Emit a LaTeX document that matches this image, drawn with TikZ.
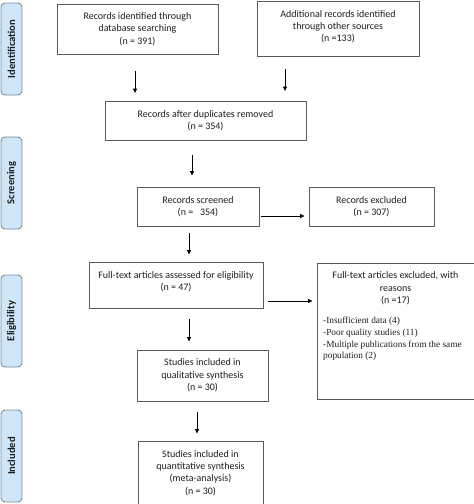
\documentclass[tikz,border=0pt]{standalone}
\usepackage{fontspec}
\setmainfont{Carlito}
\newfontfamily\seriffont{Liberation Serif}
\usetikzlibrary{arrows.meta}
\definecolor{phasefill}{HTML}{CFE6F8}
\definecolor{phaseline}{HTML}{7D8A96}
\definecolor{boxline}{HTML}{5A5A5A}
\definecolor{txt}{HTML}{1E1E1E}
\tikzset{
  box/.style={draw=boxline, line width=0.9pt, rectangle, inner sep=0pt, align=center,
    text=txt, font=\fontsize{10}{12.4}\selectfont},
  boxtext/.style={inner sep=0pt, align=center, text=txt, font=\fontsize{10}{12.4}\selectfont},
  phase/.style={draw=phaseline, fill=phasefill, line width=0.9pt, rounded corners=4pt,
    minimum width=21pt, minimum height=92pt, inner sep=0pt},
  phasetext/.style={rotate=90, font=\fontsize{10.6}{12}\selectfont\bfseries, text=txt, inner sep=0pt},
  arr/.style={draw=black, line width=0.8pt, -{Triangle[length=4.5pt,width=4pt]}}
}
\begin{document}
\begin{tikzpicture}[x=1pt,y=-1pt]
\useasboundingbox (0,0) rectangle (474,504);
% phase labels
\node[phase] (p1) at (11.5,49) {};
\node[phasetext] (p1t) at (p1.center) {Identification};
\node[phase] (p2) at (11.5,183) {};
\node[phasetext] (p2t) at (p2.center) {Screening};
\node[phase] (p3) at (11.5,321) {};
\node[phasetext] (p3t) at (p3.center) {Eligibility};
\node[phase] (p4) at (11.5,456) {};
\node[phasetext] (p4t) at (p4.center) {Included};
% boxes
\node[box, minimum width=161pt, minimum height=50pt] (b1) at (137.5,29)
  {Records identified through\\database searching\\(n = 391)};
\node[box, minimum width=162pt, minimum height=55pt] (b2) at (338,28.5) {};
\node[boxtext, anchor=north] (b2t) at ([yshift=-9.5pt]b2.north) {Additional records identified\\through other sources\\(n =133)};
\node[box, minimum width=201pt, minimum height=39pt] (b3) at (205.5,120.5)
  {Records after duplicates removed\\(n = 354)};
\node[box, minimum width=122pt, minimum height=39pt] (b4) at (198,206.5)
  {Records screened\\(n =~~~354)};
\node[box, minimum width=125pt, minimum height=39pt] (b5) at (371.5,206.5)
  {Records excluded\\(n = 307)};
\node[box, minimum width=174pt, minimum height=46pt] (b6) at (176,285) {};
\node[boxtext, anchor=north] (b6t) at ([yshift=-9.5pt]b6.north) {Full-text articles assessed for eligibility\\(n = 47)};
\node[box, minimum width=157pt, minimum height=136pt] (b7) at (395.5,331) {};
\node[boxtext, anchor=north] (b7t) at ([yshift=-9pt]b7.north) {Full-text articles excluded, with\\reasons\\(n =17)};
\node[inner sep=0pt, anchor=north west, align=left, text=txt,
  font=\seriffont\fontsize{9.3}{11.7}\selectfont] (b7l) at (323,317)
  {-Insufficient data (4)\\-Poor quality studies (11)\\-Multiple publications from the same\\population (2)};
\node[box, minimum width=131pt, minimum height=51pt] (b8) at (202.5,375.5)
  {Studies included in\\qualitative synthesis\\(n = 30)};
\node[box, minimum width=125pt, minimum height=66pt] (b9) at (200.5,474) {};
\node[boxtext, anchor=north] (b9t) at ([yshift=-9.5pt]b9.north) {Studies included in\\quantitative synthesis\\(meta-analysis)\\(n = 30)};
% arrows
\coordinate (a1s) at (135,71);
\coordinate (a2s) at (285,69);
\draw[arr] (a1s) -- (a1s |- 0,93);
\draw[arr] (a2s) -- (a2s |- 0,91);
\draw[arr, shorten <=15pt, shorten >=11pt] (b3.south -| 192,0) -- (b4.north -| 192,0);
\draw[arr, shorten <=2pt, shorten >=4pt] (b4.east |- 0,216) -- (b5.west |- 0,216);
\draw[arr, shorten <=7pt, shorten >=7pt] (b4.south -| 189,0) -- (b6.north -| 189,0);
\draw[arr, shorten <=5pt, shorten >=4pt] (b6.east |- 0,301) -- (b7.west |- 0,301);
\draw[arr, shorten <=11pt, shorten >=8pt] (b6.south -| 189,0) -- (b8.north -| 189,0);
\draw[arr, shorten <=11pt, shorten >=7pt] (b8.south -| 197,0) -- (b9.north -| 197,0);
\end{tikzpicture}
\end{document}
